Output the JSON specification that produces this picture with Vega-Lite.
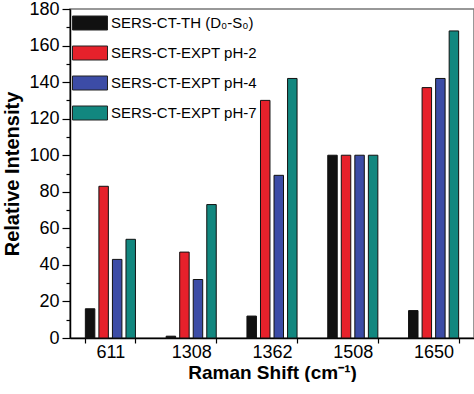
{
  "$schema": "https://vega.github.io/schema/vega-lite/v6.json",
  "width": 404,
  "height": 329,
  "padding": {"left": 2, "top": 0, "right": 2, "bottom": 0},
  "config": {
    "view": {"stroke": "#777777", "strokeWidth": 1.5},
    "font": "Liberation Sans"
  },
  "data": {"values": [
    {"cat": "611", "series": "SERS-CT-TH (D₀-S₀)", "value": 16},
    {"cat": "611", "series": "SERS-CT-EXPT pH-2", "value": 83},
    {"cat": "611", "series": "SERS-CT-EXPT pH-4", "value": 43},
    {"cat": "611", "series": "SERS-CT-EXPT pH-7", "value": 54},
    {"cat": "1308", "series": "SERS-CT-TH (D₀-S₀)", "value": 1},
    {"cat": "1308", "series": "SERS-CT-EXPT pH-2", "value": 47},
    {"cat": "1308", "series": "SERS-CT-EXPT pH-4", "value": 32},
    {"cat": "1308", "series": "SERS-CT-EXPT pH-7", "value": 73},
    {"cat": "1362", "series": "SERS-CT-TH (D₀-S₀)", "value": 12},
    {"cat": "1362", "series": "SERS-CT-EXPT pH-2", "value": 130},
    {"cat": "1362", "series": "SERS-CT-EXPT pH-4", "value": 89},
    {"cat": "1362", "series": "SERS-CT-EXPT pH-7", "value": 142},
    {"cat": "1508", "series": "SERS-CT-TH (D₀-S₀)", "value": 100},
    {"cat": "1508", "series": "SERS-CT-EXPT pH-2", "value": 100},
    {"cat": "1508", "series": "SERS-CT-EXPT pH-4", "value": 100},
    {"cat": "1508", "series": "SERS-CT-EXPT pH-7", "value": 100},
    {"cat": "1650", "series": "SERS-CT-TH (D₀-S₀)", "value": 15},
    {"cat": "1650", "series": "SERS-CT-EXPT pH-2", "value": 137},
    {"cat": "1650", "series": "SERS-CT-EXPT pH-4", "value": 142},
    {"cat": "1650", "series": "SERS-CT-EXPT pH-7", "value": 168}
  ]},
  "mark": {"type": "bar", "stroke": "#111111", "strokeWidth": 1},
  "encoding": {
    "x": {
      "field": "cat", "type": "nominal", "sort": null,
      "scale": {"paddingInner": 0.38, "paddingOuter": 0.19},
      "axis": {
        "title": "Raman Shift (cm⁻¹)",
        "titleFontSize": 19, "titleFontWeight": "bold", "titleColor": "#000", "titlePadding": 2,
        "labelFontSize": 18, "labelColor": "#000", "labelAngle": 0, "labelPadding": 0,
        "tickBand": "extent", "tickSize": 5, "tickColor": "#000", "tickWidth": 1.2,
        "domainColor": "#000", "domainWidth": 1.5
      }
    },
    "xOffset": {
      "field": "series", "type": "nominal", "sort": null,
      "scale": {"paddingInner": 0.3, "paddingOuter": 0}
    },
    "y": {
      "field": "value", "type": "quantitative",
      "scale": {"domain": [0, 180], "nice": false},
      "axis": {
        "title": "Relative Intensity",
        "titleFontSize": 20, "titleFontWeight": "bold", "titleColor": "#000", "titlePadding": 6,
        "values": [0,10,20,30,40,50,60,70,80,90,100,110,120,130,140,150,160,170,180],
        "labelExpr": "datum.value % 20 === 0 ? datum.label : ''",
        "labelFontSize": 18, "labelColor": "#000", "labelPadding": 3,
        "tickSize": {"condition": {"test": "datum.value % 20 === 0", "value": 8}, "value": 4},
        "tickColor": "#000", "tickWidth": 1.2,
        "domainColor": "#000", "domainWidth": 1.5,
        "grid": false
      }
    },
    "color": {
      "field": "series", "type": "nominal", "sort": null,
      "scale": {
        "domain": ["SERS-CT-TH (D₀-S₀)", "SERS-CT-EXPT pH-2", "SERS-CT-EXPT pH-4", "SERS-CT-EXPT pH-7"],
        "range": ["#111111", "#e6212b", "#3c4ca6", "#12877f"]
      },
      "legend": {
        "title": null, "orient": "none", "legendX": 2, "legendY": -4,
        "symbolType": "M-1,-0.4H1V0.4H-1Z", "symbolSize": 1225,
        "symbolStrokeColor": "#222", "symbolStrokeWidth": 1,
        "labelFontSize": 15, "labelColor": "#000", "labelOffset": 3,
        "rowPadding": 3, "labelLimit": 300
      }
    }
  }
}
